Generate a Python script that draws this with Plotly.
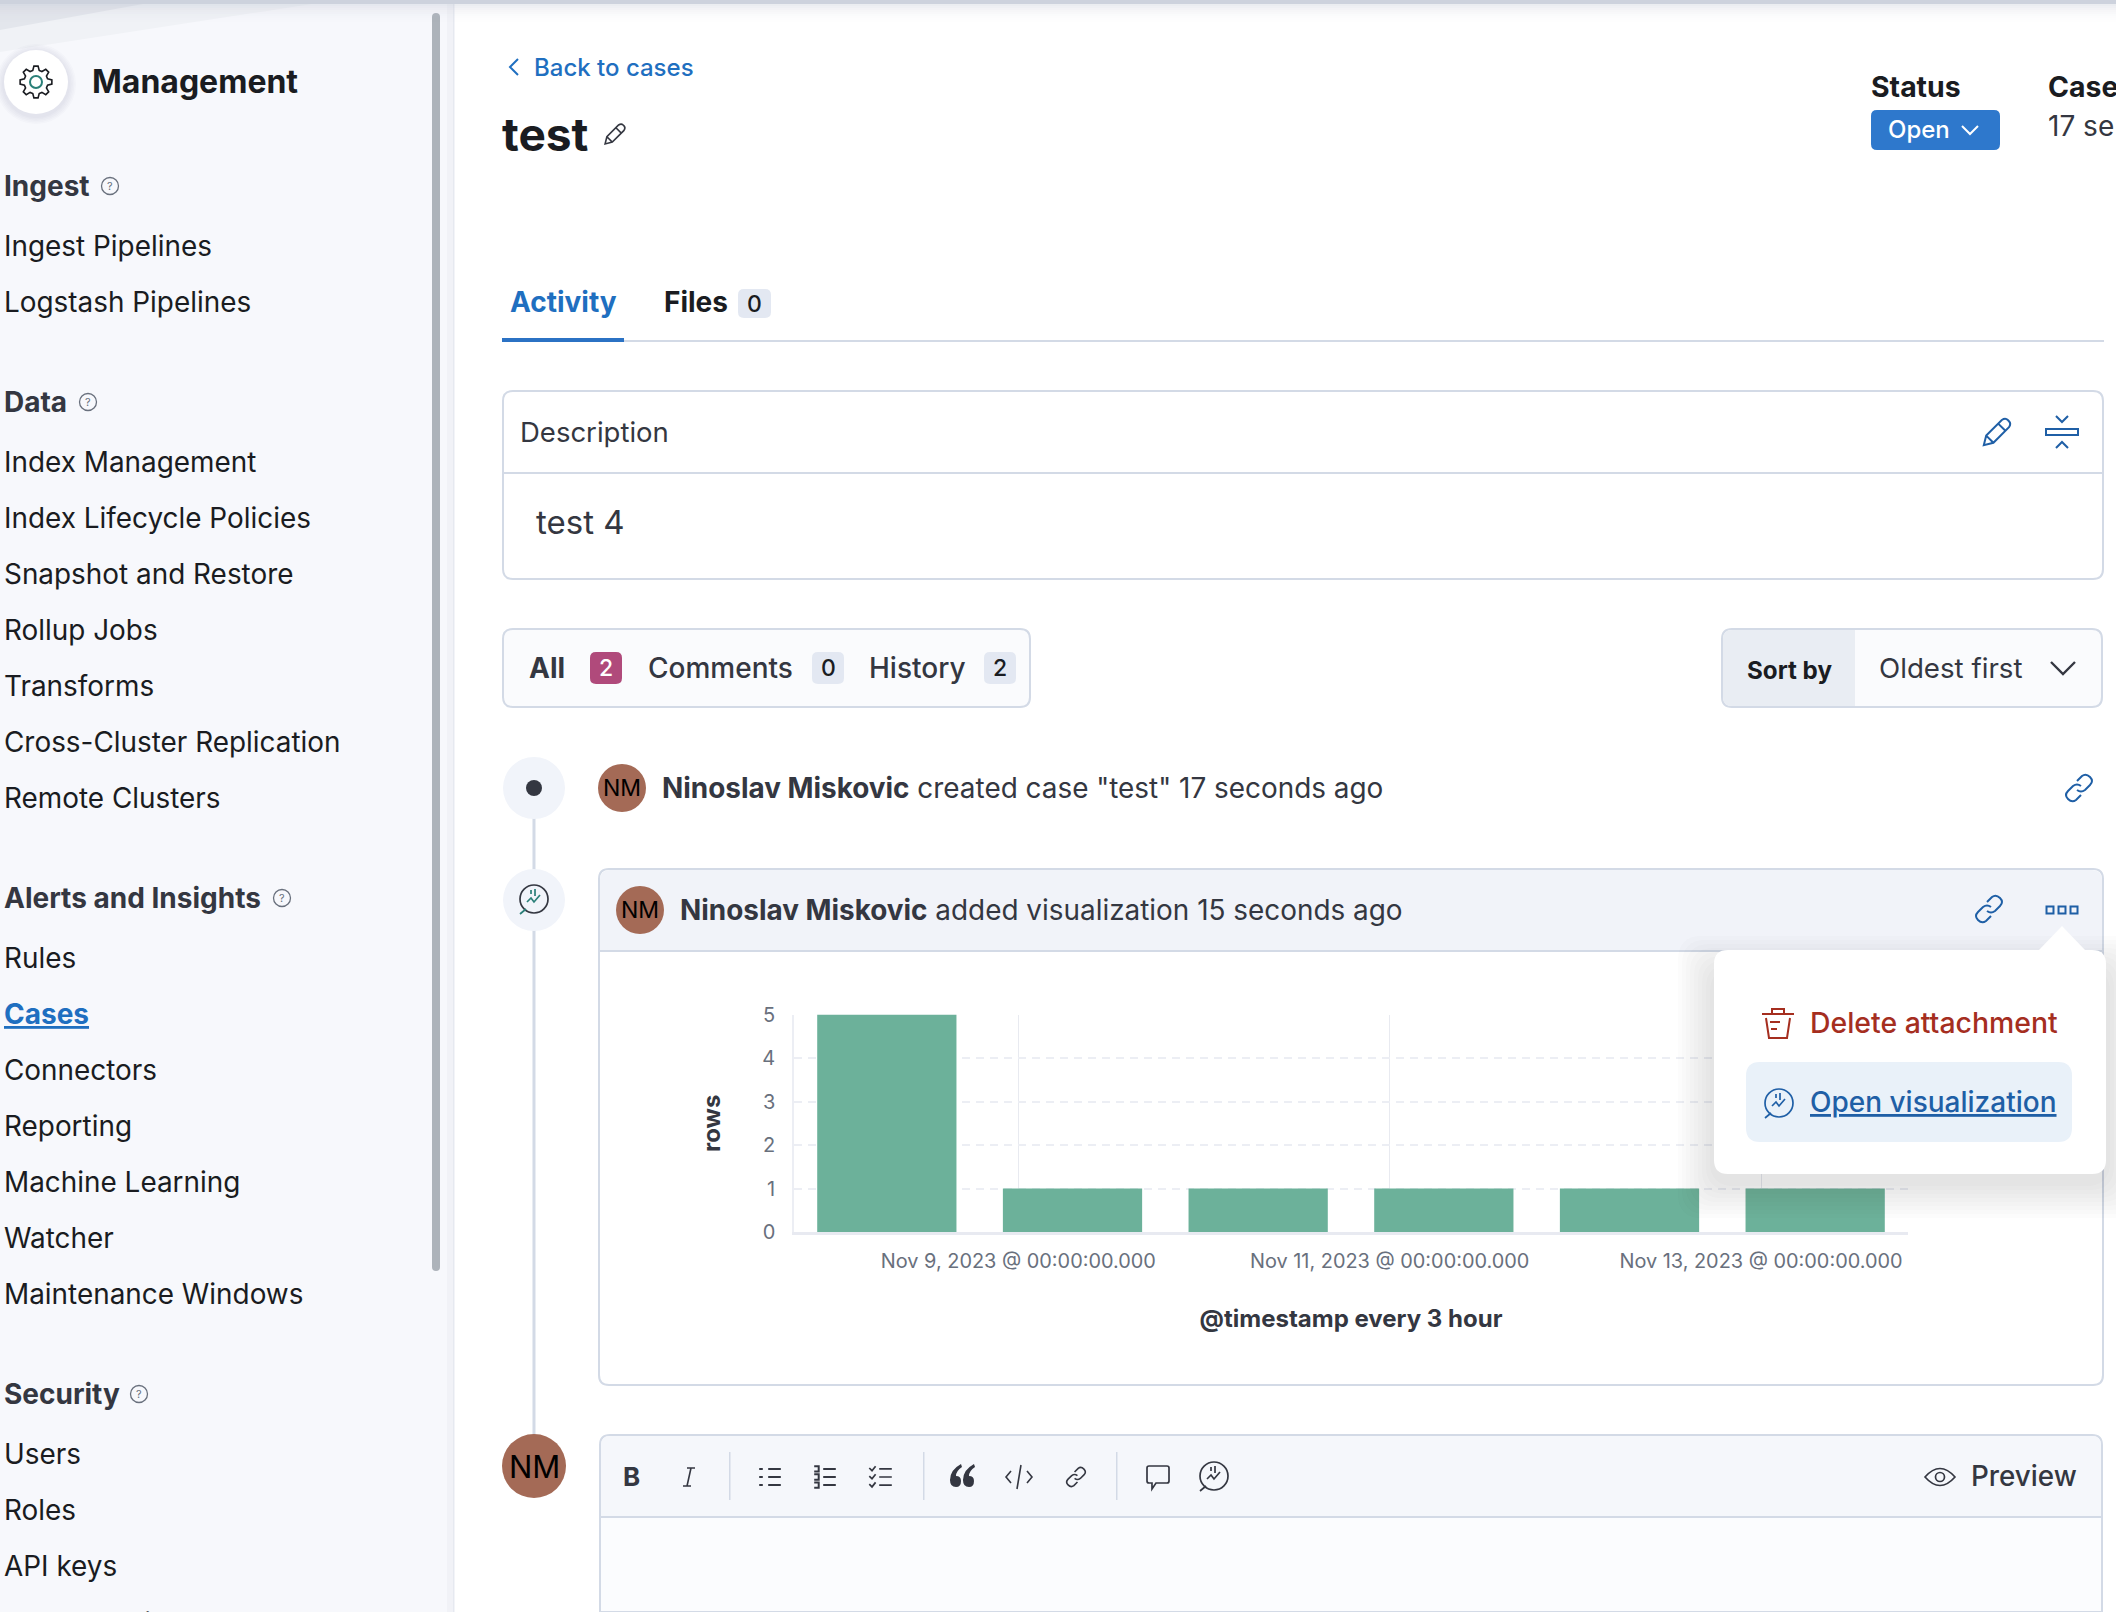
import math
import plotly.graph_objects as go

W, H = 2116, 1612
FONT = "Inter"

# chart values
BAR_DATES = ["2023-11-08 07:00", "2023-11-09 07:00", "2023-11-10 07:00",
             "2023-11-11 07:00", "2023-11-12 07:00", "2023-11-13 07:00"]
ROWS = [5, 1, 1, 1, 1, 1]
Y_TICKS = [0, 1, 2, 3, 4, 5]
TICK_DATES = ["2023-11-09", "2023-11-11", "2023-11-13"]
TICK_LABELS = ["Nov 9, 2023 @ 00:00:00.000", "Nov 11, 2023 @ 00:00:00.000", "Nov 13, 2023 @ 00:00:00.000"]
X_TITLE = "@timestamp every 3 hour"
Y_TITLE = "rows"

# page text
NAV_HEADINGS = ["Ingest", "Data", "Alerts and Insights", "Security"]
NAV_HEADING_Y = [186, 402, 898, 1394]
NAV_HELP_X = [110, 88, 282, 139]
NAV_ITEMS = ["Ingest Pipelines", "Logstash Pipelines", "Index Management", "Index Lifecycle Policies",
             "Snapshot and Restore", "Rollup Jobs", "Transforms", "Cross-Cluster Replication",
             "Remote Clusters", "Rules", "Connectors", "Reporting", "Machine Learning",
             "Watcher", "Maintenance Windows", "Users", "Roles", "API keys", "Role Mappings"]
NAV_ITEM_Y = [246, 302, 462, 518, 574, 630, 686, 742, 798, 958, 1070, 1126, 1182, 1238, 1294, 1454, 1510, 1566, 1623]

BORDER = "#d3dae6"
TEXT = "#343741"
INK = "#1a1c21"
BLUE = "#1f6fc0"
DARK_BLUE = "#1f5fa6"
shapes = []
annotations = []


def px(x):
    return x / W


def py(y):
    return 1 - y / H


def to_paper(path):
    # path uses absolute M L Q C Z commands in screen pixels
    out = []
    is_x = True
    for tok in path.split():
        if tok.isalpha():
            out.append(tok)
            is_x = True
        else:
            out.append(f"{px(float(tok)):.5f}" if is_x else f"{py(float(tok)):.5f}")
            is_x = not is_x
    return " ".join(out)


def add_path(path, fill=None, line=None, lw=0, layer="below"):
    shapes.append(dict(type="path", xref="paper", yref="paper", path=to_paper(path), layer=layer,
                       fillcolor=fill if fill else "rgba(0,0,0,0)",
                       line=dict(color=line if line else "rgba(0,0,0,0)", width=lw)))


def rrect(x0, y0, x1, y1, r=0, fill=None, line=None, lw=0, layer="below"):
    if r == 0:
        p = f"M {x0} {y0} L {x1} {y0} L {x1} {y1} L {x0} {y1} Z"
    else:
        p = (f"M {x0+r} {y0} L {x1-r} {y0} Q {x1} {y0} {x1} {y0+r} L {x1} {y1-r} Q {x1} {y1} {x1-r} {y1} "
             f"L {x0+r} {y1} Q {x0} {y1} {x0} {y1-r} L {x0} {y0+r} Q {x0} {y0} {x0+r} {y0} Z")
    add_path(p, fill, line, lw, layer)


def circle(cx, cy, r, fill=None, line=None, lw=0, layer="below"):
    shapes.append(dict(type="circle", xref="paper", yref="paper", layer=layer,
                       x0=px(cx - r), x1=px(cx + r), y0=py(cy + r), y1=py(cy - r),
                       fillcolor=fill if fill else "rgba(0,0,0,0)",
                       line=dict(color=line if line else "rgba(0,0,0,0)", width=lw)))


def icon(path, cx, cy, color, lw=2, scale=1.0, fill=None, layer="below"):
    # path is drawn around (0, 0) and moved to (cx, cy)
    out = []
    is_x = True
    for tok in path.split():
        if tok.isalpha():
            out.append(tok)
            is_x = True
        else:
            out.append(str(float(tok) * scale + (cx if is_x else cy)))
            is_x = not is_x
    add_path(" ".join(out), fill, color, lw, layer)


def label(x, y, text, size=28, color=INK, weight=400, anchor="left"):
    annotations.append(dict(x=px(x), y=py(y), xref="paper", yref="paper", text=text, showarrow=False,
                            xanchor=anchor, yanchor="middle", borderpad=0, borderwidth=0,
                            font=dict(family=FONT, size=size, color=color, weight=weight)))


PENCIL = "M -11 11 L -9 3 L 4 -10 Q 7 -12 9 -10 L 10 -9 Q 12 -7 10 -4 L -3 9 Z M -9 3 L -3 9 M 1 -7 L 7 -1"
LINK = ("M -2 -7 L 3 -12 Q 7 -15 11 -11 Q 15 -7 11 -3 L 6 2 Q 2 5 -2 2 "
        "M 2 7 L -3 12 Q -7 15 -11 11 Q -15 7 -11 3 L -6 -2 Q -2 -5 2 -2")
CHEVRON = "M -8 -4 L 0 4 L 8 -4"
VIS_LINES = "M -7 3 L -3 -1 L 0 3 L 6 -4 M -3 -5 L -3 -9 M 1 -3 L 1 -10 M -8 10 L -14 15"
QUOTE = ("M -2 -12 Q -13 -6 -13 4 Q -13 11 -7 11 Q -2 11 -2 5 Q -2 0 -7 0 Q -7 -5 -1 -9 Z "
         "M 11 -12 Q 0 -6 0 4 Q 0 11 6 11 Q 11 11 11 5 Q 11 0 6 0 Q 6 -5 12 -9 Z")


def vis_icon(cx, cy, color, accent=None, lw=1.7, scale=1.0, layer="below"):
    circle(cx, cy, 14 * scale, None, color, lw, layer)
    icon(VIS_LINES, cx, cy, accent or color, lw, scale, None, layer)


def help_icon(cx, cy):
    circle(cx, cy, 8.5, None, "#69707d", 1.3)
    label(cx, cy, "?", 11, "#69707d", 400, "center")


def gear(cx, cy, r_out, r_in, teeth=8):
    pts = []
    for i in range(teeth):
        a = 2 * math.pi * i / teeth
        d = math.pi / teeth * 0.55
        for rr_, off in ((r_in, -d * 1.25), (r_out, -d * 0.6), (r_out, d * 0.6), (r_in, d * 1.25)):
            pts.append((cx + rr_ * math.cos(a + off), cy + rr_ * math.sin(a + off)))
    p = "M " + " L ".join(f"{x:.2f} {y:.2f}" for x, y in pts) + " Z"
    add_path(p, None, INK, 1.6)
    circle(cx, cy, 6, None, "#2a7f78", 2)


def avatar(cx, cy, r, size):
    circle(cx, cy, r, "#a46a56")
    label(cx, cy, "NM", size, "#000000", 400, "center")


def badge(x0, x1, y0, y1, text, fill, color):
    rrect(x0, y0, x1, y1, 6, fill)
    label((x0 + x1) / 2, (y0 + y1) / 2, text, 23, color, 500, "center")


# --- page frame ---
rrect(0, 0, 453, H, 0, "#f7f8fc")
rrect(453, 0, 454.5, H, 0, "#e6e9f0")
rrect(447, 0, 453, H, 0, "rgba(200,205,215,0.12)")
add_path("M 0 4 L 312 4 L 0 52 Z", "#f0f2f6")
add_path("M 0 4 L 143 4 L 0 30 Z", "#e3e6ec")
rrect(432, 13, 440, 1271, 4, "#adb3ba")
for i in range(10):
    rrect(0, 4 + i * 2, W, 6 + i * 2, 0, f"rgba(190,195,210,{0.30 * (1 - i / 10) ** 2:.3f})")
rrect(0, 0, W, 4, 0, "#cdd2dd")

# --- sidebar ---
for i in range(5):
    circle(36, 84, 34 + i * 1.5, f"rgba(60,70,90,{0.02:.3f})")
circle(36, 82, 32, "#ffffff")
gear(36, 82, 16, 12)
label(92, 81, "Management", 32, INK, 700)
for name, y, hx in zip(NAV_HEADINGS, NAV_HEADING_Y, NAV_HELP_X):
    label(4, y, name, 28, TEXT, 700)
    help_icon(hx, y)
for name, y in zip(NAV_ITEMS, NAV_ITEM_Y):
    label(4, y, name, 27.9, INK)
label(4, 1014, "<u>Cases</u>", 28, BLUE, 700)

# --- page header ---
icon("M 4 -8 L -4 0 L 4 8", 514, 67, BLUE, 2)
label(534, 67, "Back to cases", 24, BLUE, 500)
label(502, 134, "test", 46, INK, 700)
icon(PENCIL, 615, 134, TEXT, 1.6, 0.9)
label(1871, 86, "Status", 28.4, INK, 700)
rrect(1871, 110, 2000, 150, 6, "#2e78cc")
label(1888, 129, "Open", 24, "#ffffff", 500)
icon(CHEVRON, 1970, 130, "#ffffff", 2)
label(2048, 86, "Case", 28.4, INK, 700)
label(2048, 126, "17 se", 28, TEXT)

# --- tabs ---
rrect(502, 340, 2104, 342, 0, BORDER)
rrect(502, 338, 624, 342, 0, "#2b72c4")
label(510, 302, "Activity", 28, BLUE, 700)
label(664, 302, "Files", 28, INK, 700)
badge(738, 771, 289, 318, "0", "#e3e8f2", INK)

# --- description ---
rrect(503, 391, 2103, 579, 10, "#ffffff", BORDER, 2)
rrect(503, 472, 2103, 474, 0, BORDER)
label(520, 432, "Description", 27.5, TEXT)
label(536, 522, "test 4", 33, TEXT)
icon(PENCIL, 1997, 432, DARK_BLUE, 2, 1.2)
icon("M -6 -16 L 0 -10 L 6 -16 M -16 -3 L 16 -3 L 16 3 L -16 3 Z M -6 16 L 0 10 L 6 16", 2062, 432, DARK_BLUE, 2)

# --- filters ---
rrect(503, 629, 1030, 707, 10, "#fafbfd", BORDER, 2)
label(529, 668, "All", 28, TEXT, 700)
badge(590, 622, 652, 684, "2", "#b04a7b", "#ffffff")
label(648, 668, "Comments", 28, TEXT, 500)
badge(812, 844, 652, 684, "0", "#e3e8f2", INK)
label(869, 668, "History", 28, TEXT, 500)
badge(984, 1016, 652, 684, "2", "#e3e8f2", INK)
rrect(1722, 629, 2102, 707, 10, "#fafbfd", BORDER, 2)
add_path("M 1855 630 L 1732 630 Q 1723 630 1723 639 L 1723 697 Q 1723 706 1732 706 L 1855 706 Z", "#e9edf3")
label(1747, 670, "Sort by", 24.2, INK, 700)
label(1879, 668, "Oldest first", 27.7, TEXT)
icon("M -12 -6 L 0 6 L 12 -6", 2063, 668, TEXT, 2.4)

# --- timeline ---
rrect(532.5, 815, 535.5, 1440, 0, BORDER)
circle(534, 788, 31, "#f1f4fa")
circle(534, 788, 8, TEXT)
avatar(622, 788, 24, 23)
label(662, 788, "<b>Ninoslav Miskovic</b> created case \"test\" 17 seconds ago", 27.9, TEXT)
icon(LINK, 2079, 788, DARK_BLUE, 2)
circle(534, 900, 31, "#f1f4fa")
vis_icon(534, 899, TEXT, "#2a7f78")

# --- visualization card ---
rrect(599, 869, 2103, 1385, 10, "#ffffff", BORDER, 2)
add_path("M 600 952 L 600 880 Q 600 870 610 870 L 2092 870 Q 2102 870 2102 880 L 2102 952 Z", "#f1f3f9")
rrect(600, 950, 2102, 952, 0, BORDER)
avatar(640, 910, 24, 23)
label(680, 910, "<b>Ninoslav Miskovic</b> added visualization 15 seconds ago", 27.9, TEXT)
icon(LINK, 1989, 909, DARK_BLUE, 2)

# --- editor ---
avatar(534, 1466, 32, 31)
add_path("M 600 1612 L 600 1445 Q 600 1435 610 1435 L 2092 1435 Q 2102 1435 2102 1445 L 2102 1612 Z", "#fbfcfe", BORDER, 2)
add_path("M 601 1516 L 601 1445 Q 601 1436 610 1436 L 2092 1436 Q 2101 1436 2101 1445 L 2101 1516 Z", "#f5f7fb")
rrect(600, 1516, 2102, 1518, 0, BORDER)
for x in [729, 923, 1116]:
    rrect(x, 1452, x + 1.5, 1500, 0, BORDER)
label(631, 1476, "B", 26, TEXT, 700, "center")
icon("M -2 -9 L 6 -9 M 2 -9 L -2 9 M -6 9 L 2 9", 689, 1477, TEXT, 1.6)
icon("M -2 -9 L 12 -9 M -2 0 L 12 0 M -2 9 L 12 9 M -12 -9 L -8 -9 M -12 0 L -8 0 M -12 9 L -8 9", 770, 1477, TEXT, 2, 0.9)
icon("M -2 -9 L 12 -9 M -2 0 L 12 0 M -2 9 L 12 9 M -12 -12 L -7 -12 L -7 -6 L -12 -6 M -12 -3 L -7 -3 L -7 3 L -12 3 M -12 6 L -7 6 L -7 12 L -12 12", 825, 1477, TEXT, 2, 0.9)
icon("M -2 -9 L 12 -9 M -2 0 L 12 0 M -2 9 L 12 9 M -13 -10 L -10 -7 L -6 -12 M -13 -1 L -10 2 L -6 -3 M -13 8 L -10 11 L -6 6", 881, 1477, TEXT, 1.7, 0.9)
icon(QUOTE, 963, 1476, None, 0, 1.0, TEXT)
icon("M -8 -6 L -13 0 L -8 6 M 8 -6 L 13 0 L 8 6 M 2 -12 L -2 12", 1019, 1477, TEXT, 1.6)
icon(LINK, 1076, 1477, TEXT, 1.6, 0.72)
icon("M -11 -9 Q -11 -11 -9 -11 L 9 -11 Q 11 -11 11 -9 L 11 4 Q 11 6 9 6 L -2 6 L -6 12 L -6 6 L -9 6 Q -11 6 -11 4 Z", 1158, 1477, TEXT, 1.7)
vis_icon(1214, 1476, TEXT, TEXT)
icon("M -15 0 Q 0 -17 15 0 Q 0 17 -15 0 Z", 1940, 1477, TEXT, 1.7)
circle(1940, 1477, 4.5, None, TEXT, 1.7)
label(1971, 1476, "Preview", 27.8, TEXT, 500)

# --- popover, drawn over the chart ---
for i in range(9):
    rrect(1714 - 36 + i * 4, 950 - 14 + i * 4, 2106 + 36 - i * 4, 1174 + 44 - i * 4, 24,
          "rgba(50,60,90,0.014)", layer="above")
icon("M 0 0 L -24 25 L 24 25 Z", 2062, 926, None, 0, fill="#ffffff", layer="above")
rrect(1714, 950, 2106, 1174, 14, "#ffffff", layer="above")
rrect(1746, 1062, 2072, 1142, 14, "#e9f1f9", layer="above")
for x in [2050, 2062, 2074]:
    rrect(x - 3.5, 906.5, x + 3.5, 913.5, 0, None, DARK_BLUE, 2)
RED = "#a52e1f"
icon("M -16 -9 L 16 -9 M -6 -9 L -6 -14 L 6 -14 L 6 -9 M -12 -5 L -9 15 L 9 15 L 12 -5 M -8 -1 L 2 -1 M -7 6 L -1 6",
     1778, 1023, RED, 2, layer="above")
vis_icon(1779, 1103, DARK_BLUE, lw=1.7, layer="above")
label(1810, 1022, "Delete attachment", 28.4, RED, 500)
label(1810, 1102, "<u>Open visualization</u>", 28, DARK_BLUE, 500)

# --- the chart itself ---
fig = go.Figure()
fig.add_trace(go.Bar(x=BAR_DATES, y=ROWS, width=64800000, marker=dict(color="#6cb19a", line=dict(width=0)),
                     hovertemplate="%{y}<extra></extra>"))
fig.update_layout(
    width=W, height=H, margin=dict(l=0, r=0, t=0, b=0, autoexpand=False),
    paper_bgcolor="#ffffff", plot_bgcolor="rgba(0,0,0,0)", showlegend=False,
    font=dict(family=FONT, color=TEXT), shapes=shapes, annotations=annotations,
    xaxis=dict(domain=[px(794), px(1908)], type="date", range=["2023-11-07 19:00", "2023-11-13 19:00"],
               tickmode="array", tickvals=TICK_DATES, ticktext=TICK_LABELS, ticks="", ticklabelstandoff=9,
               tickfont=dict(family=FONT, size=19.9, color="#69707d"),
               showgrid=True, gridcolor="#e8eaf0", gridwidth=1, zeroline=False,
               showline=True, linecolor="#e8eaf1", linewidth=3,
               title=dict(text=X_TITLE, standoff=39, font=dict(family=FONT, size=24, color=TEXT, weight=700)),
               automargin=False, fixedrange=True),
    yaxis=dict(domain=[py(1232), py(1014.5)], range=[0, 5], tickmode="array", tickvals=Y_TICKS,
               ticks="", ticklabelstandoff=13, tickfont=dict(family=FONT, size=20, color="#69707d"),
               showgrid=True, gridcolor="#eceef4", griddash="8px,6px", gridwidth=2, zeroline=False,
               showline=True, linecolor="#eceef4", linewidth=1.5,
               title=dict(text=Y_TITLE, standoff=35, font=dict(family=FONT, size=24, color=TEXT, weight=700)),
               automargin=False, fixedrange=True),
)

fig.write_html("out.html", config=dict(displayModeBar=False), post_script="document.body.style.margin='0';")
